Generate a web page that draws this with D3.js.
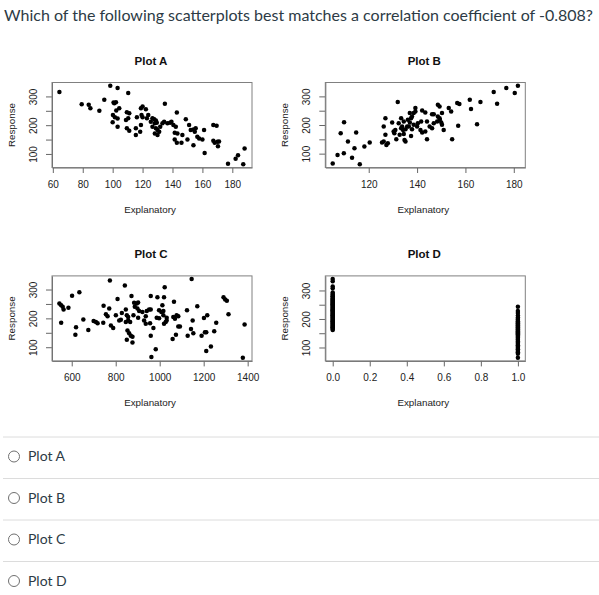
<!DOCTYPE html>
<html>
<head>
<meta charset="utf-8">
<script src="https://cdn.jsdelivr.net/npm/d3@7"></script>
<style>
  body { margin: 0; background: #fff; }
  svg text { font-family: "Liberation Sans", Arial, sans-serif; }
  .question, .option { font-family: Lato, "Noto Sans", sans-serif !important; fill: #2d3b45; }
</style>
</head>
<body>
<div id="chart"></div>
<script>
// Plot A: strong negative relation
const aExplanatory = [64.4, 98.4, 103.3, 110.4, 79.3, 84, 85.1, 91.1, 94.4, 100.6, 102.2, 101.1, 100.2, 102.4, 104.4, 101.5, 103.3, 100, 103.3,
  109.5, 111.1, 108.9, 110.4, 109.5, 111.1, 115.5, 115.5, 116.2, 118.9, 120, 119.3, 120, 118.9, 118.4, 122.2, 123.8, 122.9,
  126.6, 127.8, 128.9, 125.5, 128.2, 129.5, 126.6, 128.9, 130, 131.1, 128.2, 130, 131.8, 133.3, 134.9, 134.4, 136.6, 138.4, 139.3,
  140.6, 142.2, 142.9, 141.5, 143.3, 141.5, 142.9, 146.6, 146, 148.9, 151.1, 152.2, 154, 150, 154, 155.5, 154.9, 156.6, 157.8, 160,
  161.1, 161.5, 167.3, 169.5, 167.3, 168.2, 170, 170.4, 171.1, 177.1, 182.2, 183.8, 187.3, 188.2];
const aResponse = [315, 337.5, 329, 311.8, 273.2, 271, 259, 249.8, 288.4, 279, 280, 276.7, 235.8, 251, 259, 227.6, 223, 210, 194.8,
  245, 241.6, 218.2, 224, 189, 180.8, 189, 165.6, 227.6, 259, 265, 235.8, 227.6, 200.6, 177.3, 255.6, 235.8, 224,
  224, 220.5, 215.9, 212.3, 206.5, 208.8, 194.8, 189, 183, 177.3, 171.4, 165.5, 194.8, 206.5, 274.4, 212.3, 206.5, 208.8, 212.3,
  200.6, 194.8, 243.9, 173.7, 171.4, 150.3, 138.6, 165.6, 138.6, 220.5, 200.6, 183, 185.4, 150.3, 130.5, 189, 177.3, 159.7, 153.8, 150.3,
  183, 103.5, 200.6, 198.3, 145.7, 138.6, 142.1, 127, 143.3, 66, 83.6, 95.4, 63.8, 118.7];

// Plot B: strong positive relation
const bExplanatory = [105.1, 107.1, 109.7, 108.4, 109.8, 111.4, 113.1, 114.1, 114.8, 116.3, 118.2, 120.4,
  125.5, 126.2, 127.3, 127.9, 126.2, 126.9, 126.9, 129.7, 130.3, 131, 130.6, 131.4, 132,
  132.4, 133.4, 134.5, 133.8, 133.4, 134.2, 135.2, 135.9, 132.8, 134.5, 134.8, 135.2, 136.2, 137, 137.5,
  136.6, 137.9, 138.6, 137, 137.9, 138.6, 139.3, 139.3, 137.5, 140, 141.4, 142.1, 140.3, 141.7, 142.1, 143.4,
  144.1, 145.2, 146.2, 143.4, 144.1, 146.2, 146.9, 146.9, 148.3, 149.4, 150, 148.6, 149.3, 148.6, 150.3, 151,
  150.3, 149.3, 153.1, 154.1, 154.5, 156.6, 157.5, 157, 161.8, 162.3, 164.8, 166.2, 171.7, 173.1, 176.9, 180.4, 181.7];
const bResponse = [66, 95.4, 101.2, 171.4, 210, 142.1, 86, 118.7, 173.7, 62.6, 124.6, 138.6,
  138.6, 142.1, 130.5, 136.3, 194.8, 224, 165.6, 208.8, 177.3, 183, 171.4, 150.3, 280.2,
  206.5, 224, 212.3, 194.8, 189, 183, 185.4, 194.8, 165.6, 169, 148, 142.1, 218.2, 208.8, 224,
  194.8, 185.4, 200.6, 241.6, 229.9, 241.6, 247.4, 259, 162, 194.8, 183, 173.7, 206.5, 212.3, 251, 244,
  212.3, 194.8, 189, 177.3, 150.3, 238, 238, 206.5, 212.3, 218.2, 208.8, 270.8, 265, 229.9, 200.6, 183,
  241.6, 224, 259, 247.4, 150.3, 276.7, 273.2, 197, 288.4, 255.6, 203, 280, 315.3, 274.4, 329.4, 311.8, 337.5];

// Plot C: no clear relation
const cExplanatory = [544, 552, 559, 563, 552, 585, 601.5, 634.7, 619.6, 616.6, 652.8, 675.5, 699.6, 710, 717.7, 743.4, 744.9,
  755.5, 763, 770.5, 778, 788.6, 773.5, 800.7, 808.3, 815.9, 823.4, 827.9, 841.5, 846, 850.5, 856.6, 846, 856.6, 865.7,
  853.5, 861.1, 868.7, 876.2, 850.5, 876.2, 871.7, 883.7, 895.8, 901.9, 886.7, 898.8, 880.7, 901.9, 906.4, 921.5, 936.6,
  929, 936.6, 941.2, 951.8, 959.3, 959.3, 956.3, 971.4, 959.3, 962.3, 982, 986.5, 997.1, 989.6, 997.1, 1007.6, 1016.7,
  1012.2, 1019.7, 1022.7, 1016.7, 1031.8, 1019.7, 1027.2, 1031.8, 1061.9, 1069.4, 1064.9, 1076.9, 1084.5, 1084.5, 1092,
  1058.8, 1073.9, 1124.1, 1127.2, 1142.3, 1149.8, 1152.9, 1145.3, 1170.9, 1190.5, 1201.1, 1216.2, 1205.6, 1211.7, 1211.7,
  1232.8, 1247.9, 1257, 1290.2, 1297.7, 1305.3, 1312.8, 1378, 1386];
const cResponse = [251.7, 245.8, 240, 230.5, 184.6, 236.4, 278.7, 290.5, 169.4, 143.5, 196.4, 160, 190.5, 187, 183.4, 184.6, 243.4,
  214, 207, 234, 175.2, 167, 331.6, 210.5, 267, 193, 195.2, 218.7, 314, 230.5, 210.5, 204.6, 187, 193, 187,
  157.6, 148.2, 140, 136.4, 125.8, 116.4, 277.5, 254, 251.7, 255.2, 240, 234, 210.5, 202.3, 225.8, 222.3, 207,
  193, 181, 225.8, 230.5, 230.5, 277.5, 183.5, 167, 140, 65.9, 92.9, 202.3, 200.3, 272.8, 228.1, 222.3, 225.8,
  245.8, 272.8, 308.1, 210.5, 202.3, 181, 187, 193, 204.6, 198.8, 257.5, 210.5, 207, 171.7, 171.7,
  128.2, 143.5, 228.1, 140, 163.5, 193, 148.2, 336.3, 242.2, 140, 201.1, 210.5, 151.7, 151.7, 87,
  102.3, 155.2, 184.6, 272.8, 265.7, 261, 214, 63.5, 178.8];

// Plot D: binary explanatory variable
const dGroup0Response = [340, 332, 314, 308, 293, 288, 284, 280, 277, 273, 269, 266, 262, 259, 255, 252, 249, 246, 243, 240,
  237, 234, 231, 228, 225, 222, 219, 216, 213, 210, 207, 204, 201, 198, 195, 192, 189, 186, 183, 180, 177, 174, 171, 168, 165, 161];
const dGroup1Response = [243, 228, 221, 212, 205, 200, 196, 192, 188, 185, 181, 178, 174, 171, 167, 164, 160, 157, 153, 150,
  146, 142, 138, 134, 130, 126, 121, 117, 112, 108, 103, 98, 94, 88, 83, 78, 64];
const dExplanatory = dGroup0Response.map(() => 0).concat(dGroup1Response.map(() => 1));
const dResponse = dGroup0Response.concat(dGroup1Response);

// tick labels
const aTicks = [60, 80, 100, 120, 140, 160, 180];
const bTicks = [120, 140, 160, 180];
const cTicks = [600, 800, 1000, 1200, 1400];
const dTicks = [0, 0.2, 0.4, 0.6, 0.8, 1.0];
const yTicks = [100, 150, 200, 250, 300];
const yTickLabels = [100, 200, 300];

const question = "Which of the following scatterplots best matches a correlation coefficient of -0.808?";
const options = ["Plot A", "Plot B", "Plot C", "Plot D"];

const W = 599, H = 595;
const svg = d3.select("#chart").append("svg")
    .attr("width", W)
    .attr("height", H);

svg.append("text")
    .attr("class", "question")
    .attr("x", 4)
    .attr("y", 20.5)
    .attr("font-size", 16)
    .attr("textLength", 589)
    .attr("lengthAdjust", "spacingAndGlyphs")
    .text(question);

const panels = [
    {title: "Plot A", x: aExplanatory, y: aResponse, ticks: aTicks, fmt: d3.format("d"), ox: 0, oy: 0},
    {title: "Plot B", x: bExplanatory, y: bResponse, ticks: bTicks, fmt: d3.format("d"), ox: 273.3, oy: 0},
    {title: "Plot C", x: cExplanatory, y: cResponse, ticks: cTicks, fmt: d3.format("d"), ox: 0, oy: 193.4},
    {title: "Plot D", x: dExplanatory, y: dResponse, ticks: dTicks, fmt: d3.format(".1f"), ox: 273.3, oy: 193.4}
];

// R style limits: data range plus 4% each side
function rRange(vals) {
    const e = d3.extent(vals);
    const pad = (e[1] - e[0]) * 0.04;
    return [e[0] - pad, e[1] + pad];
}

const boxW = 200, boxH = 85;
const axisColor = "#666";
const labelColor = "#222";
const tickFont = 10;

panels.forEach(p => {
    const left = p.ox + 52, top = p.oy + 82.5;
    const g = svg.append("g").attr("transform", `translate(${left},${top})`);

    const xScale = d3.scaleLinear().domain(rRange(p.x)).range([0, boxW]);
    const yScale = d3.scaleLinear().domain(rRange(p.y)).range([boxH, 0]);

    // x axis
    const xAxis = d3.axisBottom(xScale)
        .tickValues(p.ticks)
        .tickFormat(p.fmt)
        .tickSize(5.5)
        .tickSizeOuter(0)
        .tickPadding(8);
    const gx = g.append("g")
        .attr("transform", `translate(0,${boxH})`)
        .call(xAxis);
    gx.select(".domain").attr("stroke", axisColor);
    gx.selectAll(".tick line").attr("stroke", axisColor);
    gx.selectAll(".tick text")
        .attr("fill", labelColor)
        .attr("font-size", tickFont)
        .attr("font-family", "Liberation Sans, Arial, sans-serif");

    // y axis, vertical labels as in R
    const yAxis = d3.axisLeft(yScale)
        .tickValues(yTicks)
        .tickFormat(d => yTickLabels.includes(d) ? d : "")
        .tickSize(6)
        .tickSizeOuter(0);
    const gy = g.append("g").call(yAxis);
    gy.select(".domain").attr("stroke", axisColor);
    gy.selectAll(".tick line").attr("stroke", axisColor);
    gy.selectAll(".tick text")
        .attr("fill", labelColor)
        .attr("font-size", tickFont)
        .attr("font-family", "Liberation Sans, Arial, sans-serif")
        .attr("x", null)
        .attr("dy", null)
        .attr("text-anchor", "middle")
        .attr("transform", "translate(-15,0) rotate(-90)");

    // box
    g.append("rect")
        .attr("width", boxW)
        .attr("height", boxH)
        .attr("fill", "none")
        .attr("stroke", "#808080")
        .attr("stroke-width", 1);

    // points
    g.selectAll("circle")
        .data(d3.zip(p.x, p.y))
        .enter()
        .append("circle")
        .attr("cx", d => xScale(d[0]))
        .attr("cy", d => yScale(d[1]))
        .attr("r", 2.25)
        .attr("fill", "#000");

    g.append("text")
        .attr("x", 99)
        .attr("y", -18)
        .attr("text-anchor", "middle")
        .attr("font-size", 11.5)
        .attr("font-weight", "bold")
        .attr("fill", "#111")
        .text(p.title);

    g.append("text")
        .attr("x", 98)
        .attr("y", boxH + 45.5)
        .attr("text-anchor", "middle")
        .attr("font-size", 9.8)
        .attr("fill", labelColor)
        .text("Explanatory");

    g.append("text")
        .attr("transform", `translate(-37.5,${boxH / 2}) rotate(-90)`)
        .attr("text-anchor", "middle")
        .attr("font-size", 9.8)
        .attr("fill", labelColor)
        .text("Response");
});

// answer choices
const optTop = 437, optStep = 41.5;
options.forEach((o, i) => {
    const y = optTop + i * optStep;
    svg.append("line")
        .attr("x1", 3).attr("x2", W)
        .attr("y1", y).attr("y2", y)
        .attr("stroke", "#dcdcdc")
        .attr("stroke-width", 1);
    svg.append("circle")
        .attr("cx", 14)
        .attr("cy", y + 19.5)
        .attr("r", 5.5)
        .attr("fill", "#fff")
        .attr("stroke", "#707070")
        .attr("stroke-width", 1);
    svg.append("text")
        .attr("class", "option")
        .attr("x", 28)
        .attr("y", y + 24)
        .attr("font-size", 14)
        .text(o);
});
</script>
</body>
</html>
